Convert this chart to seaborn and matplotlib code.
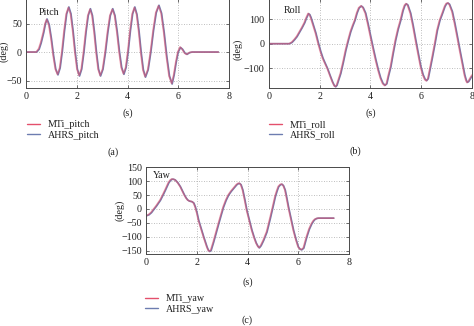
import matplotlib
matplotlib.use("Agg")
import matplotlib.pyplot as plt
from matplotlib.colors import to_hex
import seaborn as sns
import pandas as pd

# ---------------- pitch (deg) ----------------
pitch_mti_t = [0.0, 0.2, 0.4, 0.5, 0.58, 0.68, 0.75, 0.81, 0.896, 0.982, 1.068, 1.154, 1.24,
               1.326, 1.412, 1.498, 1.584, 1.67, 1.754, 1.838, 1.922, 2.006, 2.09,
               2.176, 2.262, 2.348, 2.434, 2.52, 2.60, 2.68, 2.76, 2.84, 2.92,
               3.016, 3.112, 3.208, 3.304, 3.40, 3.488, 3.576, 3.664, 3.752, 3.84,
               3.926, 4.012, 4.098, 4.184, 4.27, 4.354, 4.438, 4.522, 4.606, 4.69,
               4.796, 4.902, 5.008, 5.114, 5.22, 5.324, 5.428, 5.532, 5.636, 5.74,
               5.82, 5.90, 5.98, 6.07, 6.15, 6.25, 6.33, 6.43, 6.53, 7.0, 7.58]
pitch_mti_v = [0, 0, 0, 6, 17, 35, 50, 57, 47.8, 23.8, -5.8, -29.8, -39,
               -27.8, 1.4, 37.6, 66.8, 78, 66.6, 36.9, 0.1, -29.6, -41,
               -29.9, -0.9, 34.9, 63.9, 75, 63.9, 34.9, -0.9, -29.9, -41,
               -29.9, -0.9, 34.9, 63.9, 75, 64.2, 36.0, 1.0, -27.2, -38,
               -26.9, 2.1, 37.9, 66.9, 78, 66.4, 36.2, -1.2, -31.4, -43,
               -31.2, -0.2, 38.2, 69.2, 81, 68.0, 34.0, -8.0, -42.0, -55,
               -40, -18, 0, 9, 5, -2, -4, -1, 0, 0, 0]
pitch_ahrs_t = [0.0, 0.2, 0.42, 0.52, 0.60, 0.70, 0.77, 0.83, 0.916, 1.002, 1.088, 1.174, 1.26,
                1.346, 1.432, 1.518, 1.604, 1.69, 1.774, 1.858, 1.942, 2.026, 2.11,
                2.196, 2.282, 2.368, 2.454, 2.54, 2.62, 2.70, 2.78, 2.86, 2.94,
                3.036, 3.132, 3.228, 3.324, 3.42, 3.508, 3.596, 3.684, 3.772, 3.86,
                3.946, 4.032, 4.118, 4.204, 4.29, 4.374, 4.458, 4.542, 4.626, 4.71,
                4.816, 4.922, 5.028, 5.134, 5.24, 5.344, 5.448, 5.552, 5.656, 5.76,
                5.84, 5.92, 6.00, 6.09, 6.17, 6.27, 6.35, 6.45, 6.55, 7.0, 7.58]
pitch_ahrs_v = [0, 0, 0, 5, 16, 34, 50, 58, 48, 24, -6, -30, -40,
                -28, 1, 37, 67, 79, 67, 37, 0, -30, -42,
                -30, -1, 35, 64, 76, 64, 35, -1, -30, -42,
                -30, -1, 35, 64, 76, 64, 36, 1, -27, -39,
                -27, 2, 38, 67, 79, 66, 36, -1, -31, -44,
                -31, 0, 38, 69, 82, 68, 34, -8, -42, -56,
                -40, -18, 0, 8, 5, -2, -4, -1, 0, 0, 0]

# ---------------- roll (deg) ----------------
roll_mti_t = [0.0, 0.4, 0.8, 0.9, 1.0, 1.1, 1.2, 1.3, 1.4, 1.47, 1.55,
              1.6, 1.65, 1.75, 1.84, 1.93, 2.03, 2.12, 2.2, 2.3, 2.4, 2.5, 2.57, 2.62,
              2.67, 2.72, 2.82, 2.92, 3.02, 3.12, 3.21, 3.3, 3.38, 3.46, 3.54, 3.63,
              3.7, 3.8, 3.9, 4.0, 4.1, 4.2, 4.3, 4.39, 4.48, 4.56,
              4.63, 4.7, 4.79, 4.88, 4.98, 5.08, 5.18, 5.27, 5.34, 5.40,
              5.46, 5.57, 5.67, 5.77, 5.87, 5.97, 6.06, 6.14, 6.20,
              6.26, 6.35, 6.43, 6.53, 6.62, 6.72, 6.82, 6.92, 6.98, 7.04,
              7.1, 7.21, 7.31, 7.41, 7.51, 7.61, 7.7, 7.76, 7.80,
              7.85, 7.92, 8.0]
roll_mti_v = [0, 0, 0, 6, 17, 30, 48, 66, 86, 105, 123,
              118, 105, 72, 42, 5, -32, -60, -78, -100, -128, -155, -170, -174,
              -168, -152, -120, -75, -26, 15, 49, 75, 95, 125, 146, 154,
              147, 123, 77, 28, -20, -66, -108, -140, -162, -170,
              -163, -130, -93, -40, 15, 60, 96, 135, 156, 163,
              157, 123, 72, 15, -40, -93, -127, -146, -151,
              -142, -95, -53, 2, 55, 95, 123, 152, 163, 166,
              160, 130, 82, 28, -27, -80, -128, -150, -158,
              -153, -140, -127]
roll_ahrs_t = [0.0, 0.42, 0.82, 0.92, 1.02, 1.12, 1.22, 1.32, 1.42, 1.49, 1.57,
               1.62, 1.67, 1.77, 1.86, 1.95, 2.05, 2.14, 2.22, 2.32, 2.42, 2.52, 2.59, 2.64,
               2.69, 2.74, 2.84, 2.94, 3.04, 3.14, 3.23, 3.32, 3.40, 3.48, 3.56, 3.65,
               3.72, 3.82, 3.92, 4.02, 4.12, 4.22, 4.32, 4.41, 4.50, 4.58,
               4.65, 4.72, 4.81, 4.90, 5.00, 5.10, 5.20, 5.29, 5.36, 5.42,
               5.48, 5.59, 5.69, 5.79, 5.89, 5.99, 6.08, 6.16, 6.22,
               6.28, 6.37, 6.45, 6.55, 6.64, 6.74, 6.84, 6.94, 7.00, 7.06,
               7.12, 7.23, 7.33, 7.43, 7.53, 7.63, 7.72, 7.78, 7.82,
               7.87, 7.94, 8.0]
roll_ahrs_v = [0, 0, 0, 5, 16, 29, 47, 65, 85, 104, 122,
               118, 106, 73, 43, 6, -31, -59, -78, -101, -129, -156, -171, -175,
               -169, -153, -121, -76, -27, 14, 48, 74, 95, 124, 145, 153,
               147, 124, 78, 29, -19, -65, -107, -139, -161, -169,
               -163, -131, -94, -41, 14, 59, 95, 134, 155, 162,
               157, 124, 73, 16, -39, -92, -126, -145, -150,
               -142, -96, -54, 1, 54, 94, 122, 151, 162, 165,
               160, 131, 83, 29, -26, -79, -127, -149, -157,
               -154, -142, -132]

# ---------------- yaw (deg) ----------------
yaw_mti_t = [0.0, 0.1, 0.2, 0.29, 0.4, 0.55, 0.65, 0.75, 0.88, 0.95,
             1.01, 1.07, 1.14, 1.24, 1.34, 1.42, 1.50, 1.57, 1.63, 1.70,
             1.80, 1.87, 1.93, 2.0, 2.06, 2.16, 2.26, 2.39, 2.44, 2.49,
             2.55, 2.65, 2.75, 2.85, 2.95, 3.04, 3.14, 3.24, 3.34, 3.44,
             3.56, 3.62, 3.67, 3.73, 3.80, 3.88, 3.96, 4.06, 4.16, 4.25,
             4.33, 4.40, 4.45, 4.52, 4.62, 4.75, 4.81, 4.88, 4.98, 5.08,
             5.15, 5.21, 5.28, 5.34, 5.40, 5.47, 5.53, 5.60, 5.70, 5.80,
             5.90, 5.99, 6.06, 6.12, 6.20, 6.32, 6.42, 6.52, 6.59, 6.65,
             6.72, 6.78, 7.0, 7.4]
yaw_mti_v = [-25, -20, -12, -1, 12, 32, 50, 69, 95, 104,
             108, 107, 105, 95, 81, 66, 51, 40, 33, 29,
             27, 22, 8, -15, -40, -70, -100, -136, -147, -152,
             -148, -118, -85, -52, -20, 8, 32, 51, 64, 75,
             88, 92, 93, 88, 69, 34, -4, -40, -76, -102,
             -122, -134, -139, -131, -112, -82, -60, -34, 5, 45,
             66, 81, 88, 90, 85, 69, 42, 8, -34, -76,
             -110, -136, -144, -146, -140, -100, -72, -52, -42, -37,
             -34, -33, -33, -33]
yaw_ahrs_t = [0.0, 0.12, 0.22, 0.31, 0.42, 0.57, 0.67, 0.77, 0.90, 0.97,
              1.03, 1.09, 1.16, 1.26, 1.36, 1.44, 1.52, 1.59, 1.65, 1.72,
              1.82, 1.89, 1.95, 2.02, 2.08, 2.18, 2.28, 2.41, 2.46, 2.51,
              2.57, 2.67, 2.77, 2.87, 2.97, 3.06, 3.16, 3.26, 3.36, 3.46,
              3.58, 3.64, 3.69, 3.75, 3.82, 3.90, 3.98, 4.08, 4.18, 4.27,
              4.35, 4.42, 4.47, 4.54, 4.64, 4.77, 4.83, 4.90, 5.00, 5.10,
              5.17, 5.23, 5.30, 5.36, 5.42, 5.49, 5.55, 5.62, 5.72, 5.82,
              5.92, 6.01, 6.08, 6.14, 6.22, 6.34, 6.44, 6.54, 6.61, 6.67,
              6.74, 6.80, 7.02, 7.4]
yaw_ahrs_v = [-25, -21, -13, -2, 11, 31, 49, 68, 94, 103,
              107, 107, 104, 94, 80, 65, 50, 39, 32, 28,
              26, 21, 7, -16, -41, -71, -101, -137, -148, -153,
              -149, -119, -86, -53, -21, 7, 31, 50, 63, 74,
              87, 91, 92, 87, 68, 33, -5, -41, -77, -103,
              -123, -135, -140, -132, -113, -83, -61, -35, 4, 44,
              65, 80, 87, 89, 84, 68, 41, 7, -35, -77,
              -111, -137, -145, -147, -141, -101, -73, -53, -43, -37,
              -34, -33, -33, -33]

x_ticks = [0, 2, 4, 6, 8]
pitch_ticks = [-50, 0, 50]
roll_ticks = [-100, 0, 100]
yaw_ticks = [-150, -100, -50, 0, 50, 100, 150]

MTI_COLOR = "#e4506c"
AHRS_COLOR = "#6d7db0"
TEXT_COLOR = "#1e1e1e"

sns.set_theme(style="ticks")
plt.rcParams["font.family"] = ["Liberation Serif", "DejaVu Serif"]
plt.rcParams["text.color"] = TEXT_COLOR

W, H = 474, 326
fig = plt.figure(figsize=(W / 100, H / 100), dpi=100)
FS = 7.2


def px_axes(left, top, right, bottom):
    return fig.add_axes([left / W, 1 - bottom / H, (right - left) / W, (bottom - top) / H])


def panel(ax, mti_t, mti_v, ahrs_t, ahrs_v, names, ylim, yticks, title, title_pos,
          ylabel_pos, xlabel_y, legend_pos):
    df = pd.concat([
        pd.DataFrame({"t": ahrs_t, "v": ahrs_v, "src": names[1]}),
        pd.DataFrame({"t": mti_t, "v": mti_v, "src": names[0]}),
    ], ignore_index=True)
    # AHRS underneath, MTi drawn over it with some transparency
    sns.lineplot(data=df, x="t", y="v", hue="src", hue_order=[names[1], names[0]],
                 palette={names[0]: MTI_COLOR, names[1]: AHRS_COLOR},
                 estimator=None, sort=False, linewidth=1.2, ax=ax)
    for line in ax.get_lines():
        if to_hex(line.get_color()) == MTI_COLOR:
            line.set_alpha(0.55)
    ax.set_xlim(0, 8)
    ax.set_ylim(*ylim)
    ax.set_xticks(x_ticks)
    ax.set_yticks(yticks)
    ax.grid(True, linestyle=(0, (1, 2)), color="#a8a8a8", linewidth=0.6)
    ax.tick_params(direction="in", length=2.5, width=0.6, top=True, right=True,
                   labelsize=FS, pad=3, colors="#555555", labelcolor=TEXT_COLOR)
    for s in ax.spines.values():
        s.set_color("#4a4a4a")
        s.set_linewidth(0.7)
    ax.set_xlabel("(s)", fontsize=FS, color=TEXT_COLOR)
    ax.set_ylabel("(deg)", fontsize=FS, color=TEXT_COLOR)
    ax.xaxis.set_label_coords(0.5, xlabel_y)
    ax.yaxis.set_label_coords(*ylabel_pos)
    ax.text(title_pos[0], title_pos[1], title, transform=ax.transAxes,
            fontsize=FS, ha="left", va="center", color=TEXT_COLOR)
    handles, labels = ax.get_legend_handles_labels()
    order = [labels.index(names[0]), labels.index(names[1])]
    handles = [handles[i] for i in order]
    labels = [labels[i] for i in order]
    leg = ax.legend(handles, labels, loc="upper left",
                    bbox_to_anchor=(legend_pos[0] / W, 1 - legend_pos[1] / H),
                    bbox_transform=fig.transFigure, frameon=False, fontsize=FS,
                    borderaxespad=0, borderpad=0, handlelength=1.3, handletextpad=0.8,
                    labelspacing=0.15)
    for h in leg.get_lines():
        h.set_alpha(1.0)
        h.set_linewidth(1.0)


ax_p = px_axes(26, -1, 229, 88)
panel(ax_p, pitch_mti_t, pitch_mti_v, pitch_ahrs_t, pitch_ahrs_v,
      ("MTi_pitch", "AHRS_pitch"), (-63, 93), pitch_ticks, "Pitch", (0.065, 0.85),
      (-0.085, 0.41), -0.23, (27, 120))

ax_r = px_axes(268.7, -0.6, 472, 88)
panel(ax_r, roll_mti_t, roll_mti_v, roll_ahrs_t, roll_ahrs_v,
      ("MTi_roll", "AHRS_roll"), (-180, 180), roll_ticks, "Roll", (0.075, 0.88),
      (-0.13, 0.44), -0.23, (269, 120))

ax_y = px_axes(146, 167.3, 349, 254)
panel(ax_y, yaw_mti_t, yaw_mti_v, yaw_ahrs_t, yaw_ahrs_v,
      ("MTi_yaw", "AHRS_yaw"), (-162, 150), yaw_ticks, "Yaw", (0.035, 0.91),
      (-0.105, 0.5), -0.27, (145, 294))

fig.text(113 / W, 1 - 152 / H, "(a)", fontsize=FS, ha="center", va="center")
fig.text(355 / W, 1 - 151 / H, "(b)", fontsize=FS, ha="center", va="center")
fig.text(247 / W, 1 - 320 / H, "(c)", fontsize=FS, ha="center", va="center")

fig.savefig("out.png", dpi=100)
